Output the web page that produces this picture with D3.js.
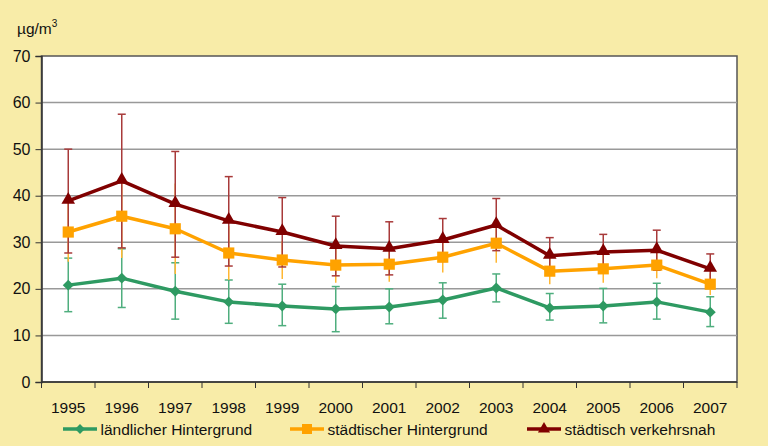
<!DOCTYPE html>
<html>
<head>
<meta charset="utf-8">
<script src="https://cdn.jsdelivr.net/npm/d3@7"></script>
<style>
  body { margin: 0; background: #f8eca8; }
  svg { display: block; font-family: "Liberation Sans", Arial, sans-serif; }
</style>
</head>
<body>
<script>
const WIDTH = 768,
    HEIGHT = 446,
    LEFT = 41.5,
    TOP = 56,
    RIGHT = 737,
    BOTTOM = 382;

const years = ['1995', '1996', '1997', '1998', '1999', '2000', '2001', '2002', '2003', '2004', '2005', '2006', '2007'];
const yTicks = [0, 10, 20, 30, 40, 50, 60, 70];

// ländlicher Hintergrund
const rural = [20.8, 22.3, 19.5, 17.2, 16.3, 15.7, 16.1, 17.6, 20.2, 15.9, 16.3, 17.2, 15.0];
const ruralLow = [15.1, 16.0, 13.5, 12.6, 12.1, 10.8, 12.5, 13.7, 17.2, 13.3, 12.7, 13.5, 11.9];
const ruralHigh = [26.6, 28.6, 25.6, 21.9, 21.0, 20.5, 20.0, 21.3, 23.2, 19.0, 20.1, 21.2, 18.3];

// städtischer Hintergrund
const urban = [32.2, 35.6, 32.9, 27.7, 26.2, 25.1, 25.3, 26.8, 29.8, 23.8, 24.3, 25.1, 21.0];
const urbanLow = [25.8, 26.6, 23.2, 21.9, 22.1, 21.3, 21.5, 23.5, 25.6, 21.0, 21.3, 22.3, 18.7];
const urbanHigh = [38.6, 44.6, 42.6, 33.5, 30.3, 28.9, 29.1, 30.1, 34.0, 26.6, 27.3, 27.9, 23.3];

// städtisch verkehrsnah
const traffic = [38.9, 43.2, 38.2, 34.6, 32.2, 29.2, 28.6, 30.5, 33.7, 27.1, 27.9, 28.3, 24.3];
const trafficLow = [27.7, 28.8, 26.8, 24.9, 24.7, 22.8, 23.0, 25.9, 28.2, 23.2, 24.1, 24.0, 21.1];
const trafficHigh = [50.0, 57.5, 49.5, 44.1, 39.6, 35.6, 34.4, 35.1, 39.4, 31.0, 31.7, 32.6, 27.5];

const series = [
    { name: 'ländlicher Hintergrund', values: rural, low: ruralLow, high: ruralHigh,
      color: '#2e9a62', errColor: '#4fae7e', symbol: d3.symbolSquare, rotate: 45, size: 60, caps: true, legendX: 63 },
    { name: 'städtischer Hintergrund', values: urban, low: urbanLow, high: urbanHigh,
      color: '#ffa200', errColor: '#ffb733', symbol: d3.symbolSquare, rotate: 0, size: 125, caps: false, legendX: 290 },
    { name: 'städtisch verkehrsnah', values: traffic, low: trafficLow, high: trafficHigh,
      color: '#800000', errColor: '#a83a3a', symbol: d3.symbolTriangle, rotate: 0, size: 80, caps: true, legendX: 527 }
];

const x = d3.scaleBand().domain(years).range([LEFT, RIGHT]);
const y = d3.scaleLinear().domain([0, 70]).range([BOTTOM, TOP]);

const svg = d3.select('body').append('svg')
    .attr('width', WIDTH)
    .attr('height', HEIGHT);

svg.append('rect')
    .attr('width', WIDTH).attr('height', HEIGHT)
    .attr('fill', '#f8eca8');

svg.append('rect')
    .attr('x', LEFT).attr('y', TOP)
    .attr('width', RIGHT - LEFT).attr('height', BOTTOM - TOP)
    .attr('fill', '#fff')
    .attr('stroke', '#555').attr('stroke-width', 1.5);

// gridlines
svg.append('g')
    .selectAll('line')
    .data(yTicks.filter(d => d > 0 && d < 70))
    .enter().append('line')
    .attr('x1', LEFT).attr('x2', RIGHT)
    .attr('y1', d => y(d)).attr('y2', d => y(d))
    .attr('stroke', '#999').attr('stroke-width', 1.5);

// y axis
const yAxis = d3.axisLeft(y).tickValues(yTicks).tickSize(6).tickPadding(5);
const gy = svg.append('g')
    .attr('transform', `translate(${LEFT},0)`)
    .call(yAxis);
gy.select('.domain').attr('stroke', '#333').attr('stroke-width', 1.5);
gy.selectAll('.tick line').attr('stroke', '#333');
gy.selectAll('.tick text')
    .attr('font-family', '"Liberation Sans", Arial, sans-serif')
    .attr('font-size', 16)
    .attr('fill', '#111');

// x axis, ticks between categories
const gx = svg.append('g')
    .attr('transform', `translate(0,${BOTTOM})`);
gx.append('line')
    .attr('x1', LEFT).attr('x2', RIGHT)
    .attr('stroke', '#333').attr('stroke-width', 1.5);
gx.selectAll('.tk')
    .data(years.concat(['end']))
    .enter().append('line')
    .attr('x1', (d, i) => i < years.length ? x(d) : RIGHT)
    .attr('x2', (d, i) => i < years.length ? x(d) : RIGHT)
    .attr('y1', 0).attr('y2', 6)
    .attr('stroke', '#333');
gx.selectAll('text')
    .data(years)
    .enter().append('text')
    .attr('x', d => x(d) + x.bandwidth() / 2)
    .attr('y', 31)
    .attr('text-anchor', 'middle')
    .attr('font-size', 15.5)
    .attr('fill', '#111')
    .text(d => d);

// unit label
const unit = svg.append('text')
    .attr('x', 17).attr('y', 34)
    .attr('font-size', 15.5)
    .attr('fill', '#111');
unit.append('tspan').text('µg/m');
unit.append('tspan').attr('dy', -7).attr('font-size', 10).text('3');

const cx = (d, i) => x(years[i]) + x.bandwidth() / 2;

series.forEach(s => {
    const eb = svg.append('g').attr('stroke', s.errColor).attr('stroke-width', 1.5);
    s.values.forEach((v, i) => {
        const px = cx(v, i);
        eb.append('line')
            .attr('x1', px).attr('x2', px)
            .attr('y1', y(s.low[i])).attr('y2', y(s.high[i]));
        if (s.caps) {
            [s.low[i], s.high[i]].forEach(e => {
                eb.append('line')
                    .attr('x1', px - 4).attr('x2', px + 4)
                    .attr('y1', y(e)).attr('y2', y(e));
            });
        }
    });
});

series.forEach(s => {
    const line = d3.line()
        .x((d, i) => cx(d, i))
        .y(d => y(d));
    svg.append('path')
        .attr('d', line(s.values))
        .attr('fill', 'none')
        .attr('stroke', s.color)
        .attr('stroke-width', 3.5)
        .attr('stroke-linejoin', 'round');
    svg.append('g')
        .selectAll('path')
        .data(s.values)
        .enter().append('path')
        .attr('d', d3.symbol().type(s.symbol).size(s.size))
        .attr('transform', (d, i) => `translate(${cx(d, i)},${y(d) + (s.symbol === d3.symbolTriangle ? -1 : 0)}) rotate(${s.rotate})`)
        .attr('fill', s.color);
});

// legend
const legend = svg.append('g').attr('transform', 'translate(0,429)');
series.forEach(s => {
    const lg = legend.append('g').attr('transform', `translate(${s.legendX},0)`);
    lg.append('line')
        .attr('x1', 0).attr('x2', 34)
        .attr('stroke', s.color).attr('stroke-width', 3.5);
    lg.append('path')
        .attr('d', d3.symbol().type(s.symbol).size(s.size * 0.8))
        .attr('transform', `translate(17,0) rotate(${s.rotate})`)
        .attr('fill', s.color);
    lg.append('text')
        .attr('x', 37.5).attr('y', 6)
        .attr('font-size', 15.5)
        .attr('fill', '#111')
        .text(s.name);
});
</script>
</body>
</html>
